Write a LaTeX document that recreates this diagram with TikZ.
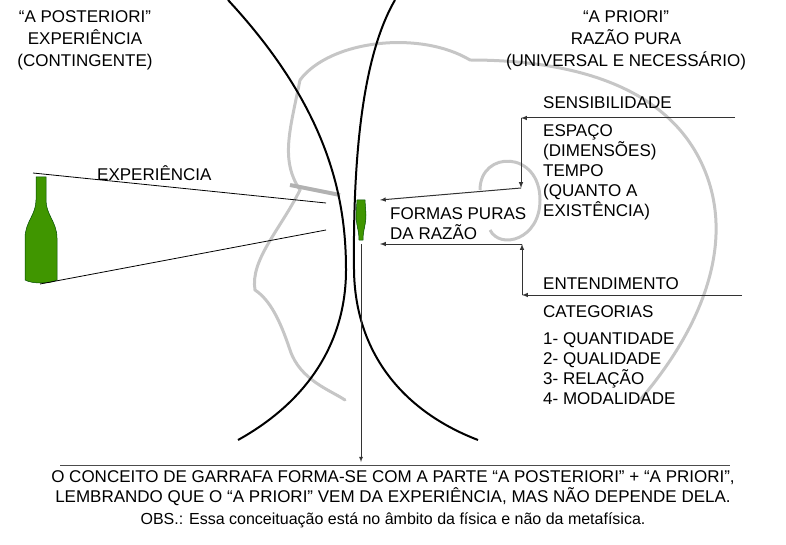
\documentclass[tikz,border=0pt]{standalone}
\usepackage{fontspec}
\setmainfont{Liberation Sans}
\begin{document}
\begin{tikzpicture}[x=1pt,y=-1pt,
  txt/.style={font=\fontsize{17}{20}\selectfont,inner sep=0pt},
  arr/.style={draw=black!80,line width=1pt,-latex},
  thin/.style={draw=black,line width=0.8pt},
  bottle/.style={fill=green!45!black!75!yellow,draw=green!30!black,line width=0.5pt}]
\useasboundingbox (0,0) rectangle (786,545);
% faint head sketch
\draw[gray!45,line width=3pt,line cap=round] (300,80) .. controls (330,40) and (420,30) .. (470,60) .. controls (560,60) and (660,80) .. (700,160) .. controls (740,240) and (700,330) .. (640,400);
\draw[gray!45,line width=3pt,line cap=round] (300,80) .. controls (290,130) and (280,160) .. (300,190) .. controls (280,230) and (250,260) .. (255,290) .. controls (270,300) and (280,320) .. (290,350) .. controls (300,380) and (330,390) .. (345,400);
\draw[gray!45,line width=3pt] (480,190) .. controls (480,150) and (540,150) .. (540,200) .. controls (540,240) and (500,250) .. (490,230);
\draw[gray!60,line width=4pt] (290,185) -- (340,195);
% arcs
\draw[line width=2pt] (228,0) .. controls (330,110) and (346,200) .. (346,270) .. controls (346,340) and (310,400) .. (238,440);
\draw[line width=2pt] (395,0) .. controls (360,60) and (353,170) .. (354,270) .. controls (355,350) and (400,410) .. (478,440);
% bottles
\path[bottle] (36,177) -- (46,177) -- (46,200) .. controls (46,215) and (57,222) .. (57,238) -- (57,280) .. controls (50,284) and (32,284) .. (25,280) -- (25,238) .. controls (25,222) and (36,215) .. (36,200) -- cycle;
\path[bottle] (357,200) -- (365,200) -- (366,215) .. controls (366,225) and (363,230) .. (363,240) -- (359,240) .. controls (359,230) and (356,225) .. (356,215) -- cycle;
\coordinate (b1) at (33,173); \coordinate (b2) at (40,284);
\coordinate (e1) at (326,203); \coordinate (e2) at (326,230);
\draw[thin] (b1) -- (e1);
\draw[thin] (b2) -- (e2);
% arrows
\coordinate (s0) at (735,118); \coordinate (s1) at (521,118); \coordinate (s2) at (521,188);
\coordinate (f1) at (380,200); \coordinate (f2) at (380,244);
\coordinate (t0) at (742,295); \coordinate (t1) at (522,295); \coordinate (t2) at (522,244);
\draw[arr] (s0) -- (s1);
\draw[arr] (s1) -- (s2);
\draw[arr] (s2) -- (f1);
\draw[arr] (t0) -- (t1);
\draw[arr] (t1) -- (t2);
\draw[arr] (t2) -- (f2);
\coordinate (d0) at (361,244); \coordinate (d1) at (361,462);
\draw[arr,line width=0.8pt] (d0) -- (d1);
\coordinate (h0) at (60,465); \coordinate (h1) at (730,465);
\draw[black!70,line width=0.6pt] (h0) -- (h1);
% texts
\node[txt,align=center,font=\fontsize{17}{22}\selectfont] (post) at (85,40) {“A POSTERIORI”\\EXPERIÊNCIA\\(CONTINGENTE)};
\node[txt,align=center,font=\fontsize{17}{22}\selectfont] (pri) at (626,40) {“A PRIORI”\\RAZÃO PURA\\(UNIVERSAL E NECESSÁRIO)};
\node[txt,anchor=west] (sens) at (543,103) {SENSIBILIDADE};
\node[txt,anchor=north west,align=left] (esp) at (543,124) {ESPAÇO\\(DIMENSÕES)\\TEMPO\\(QUANTO A\\EXISTÊNCIA)};
\node[txt,anchor=west] (exp) at (97,173) {EXPERIÊNCIA};
\node[txt,anchor=north west,align=left] (fp) at (390,207) {FORMAS PURAS\\DA RAZÃO};
\node[txt,anchor=west] (ent) at (543,284) {ENTENDIMENTO};
\node[txt,anchor=west] (cat) at (543,312) {CATEGORIAS};
\node[txt,anchor=north west,align=left] (lst) at (543,332) {1- QUANTIDADE\\2- QUALIDADE\\3- RELAÇÃO\\4- MODALIDADE};
\node[txt,align=center] (bot) at (393,488) {O CONCEITO DE GARRAFA FORMA-SE COM A PARTE “A POSTERIORI” + “A PRIORI”,\\LEMBRANDO QUE O “A PRIORI” VEM DA EXPERIÊNCIA, MAS NÃO DEPENDE DELA.};
\node[txt,font=\fontsize{16}{18}\selectfont] (obs) at (393,520) {OBS.: Essa conceituação está no âmbito da física e não da metafísica.};
\end{tikzpicture}
\end{document}
